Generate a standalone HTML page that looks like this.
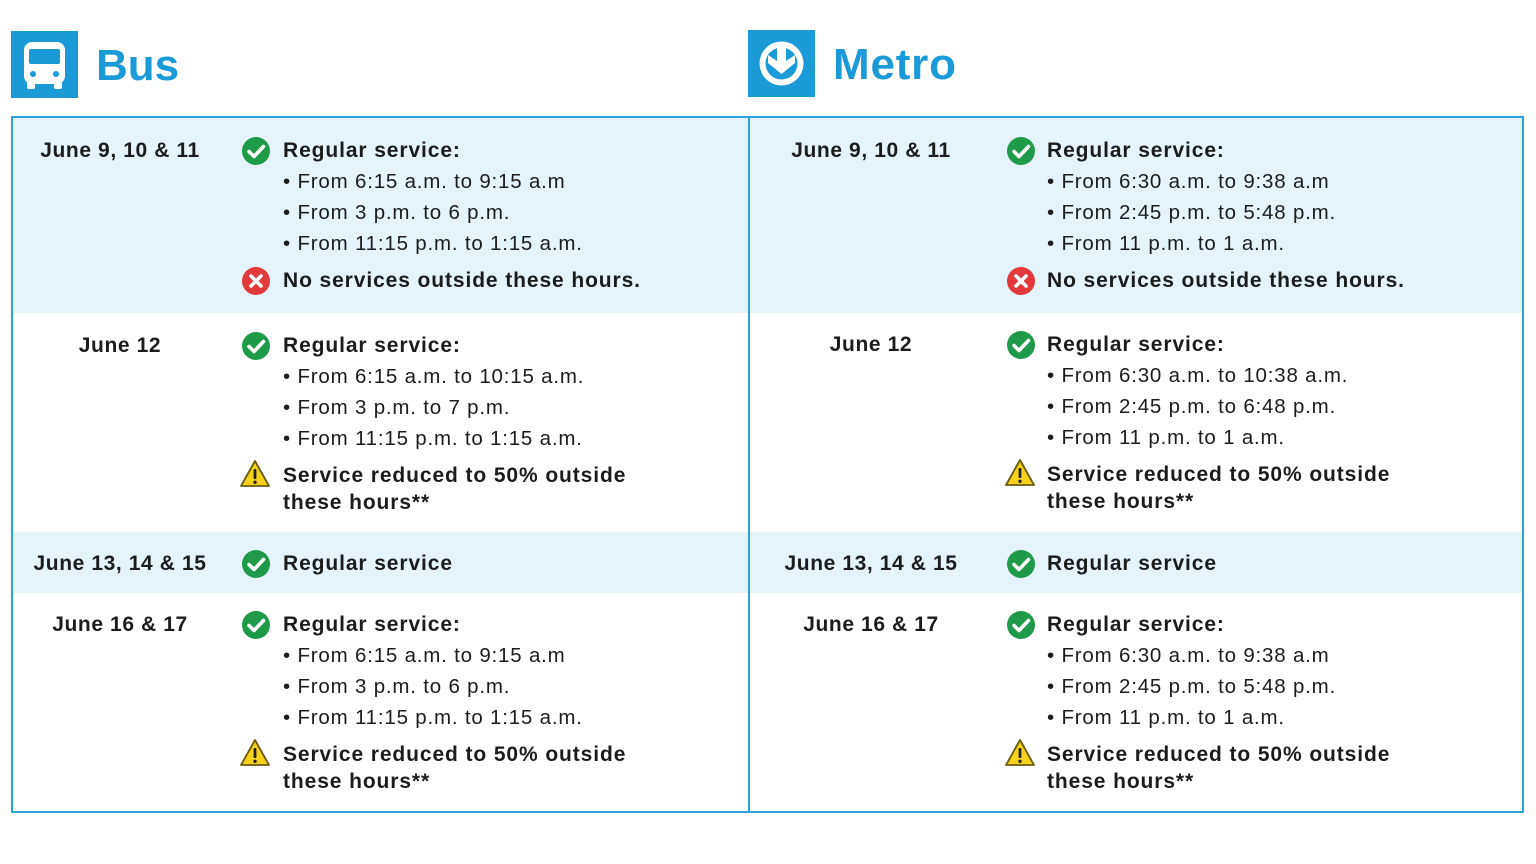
<!DOCTYPE html>
<html><head><meta charset="utf-8"><style>
*{margin:0;padding:0;box-sizing:border-box}
body{width:1536px;height:864px;background:#fff;position:relative;overflow:hidden;font-family:"Liberation Sans",sans-serif;color:#1c1c1c}
.a{position:absolute;white-space:nowrap;line-height:24px;margin-top:2px}
.b{font-weight:bold;font-size:21px;letter-spacing:0.9px}
.r{font-size:20.5px;letter-spacing:0.8px}
.d{font-weight:bold;font-size:21px;text-align:center;width:220px;letter-spacing:0.6px}
.ic{position:absolute;width:30px;height:30px;margin-top:1px}
.bg{position:absolute;background:#e5f3fb}
.h{position:absolute;color:#1b9ad8;font-weight:bold;font-size:44px;line-height:50px}
</style></head><body>
<div class="bg" style="left:11px;top:117px;width:1512px;height:196px"></div>
<div class="bg" style="left:11px;top:532px;width:1512px;height:61px"></div>
<div style="position:absolute;left:11px;top:116px;width:1513px;height:697px;border:2px solid #2aa3df"></div>
<div style="position:absolute;left:748px;top:116px;width:2px;height:697px;background:#2aa3df"></div>
<svg style="position:absolute;left:11px;top:31px" width="67" height="67" viewBox="0 0 67 67"><rect width="67" height="67" fill="#1b9ad8"/><rect x="13" y="11" width="41" height="42" rx="8" fill="#fff"/><rect x="18" y="18" width="31" height="15" rx="2" fill="#1b9ad8"/><circle cx="22" cy="43" r="3" fill="#1b9ad8"/><circle cx="45" cy="43" r="3" fill="#1b9ad8"/><rect x="16" y="50" width="8" height="8" rx="2" fill="#fff"/><rect x="43" y="50" width="8" height="8" rx="2" fill="#fff"/></svg>
<div class="h" style="left:96px;top:41px">Bus</div>
<svg style="position:absolute;left:748px;top:30px" width="67" height="67" viewBox="0 0 67 67"><rect width="67" height="67" fill="#1b9ad8"/><circle cx="33.5" cy="33.5" r="22" fill="#fff"/><circle cx="33.5" cy="33.5" r="16" fill="#1b9ad8"/><path d="M29 17 h9 v14 l9 -6 v8 l-13.5 11 l-13.5 -11 v-8 l9 6z" fill="#fff"/></svg>
<div class="h" style="left:833px;top:40px;letter-spacing:0.8px">Metro</div>

<svg width="0" height="0" style="position:absolute"><defs>
<g id="ok"><circle cx="15" cy="15" r="14" fill="#1e9a48"/><path d="M8 15.5 l5 5 l9.5 -10" stroke="#fff" stroke-width="3.6" fill="none" stroke-linecap="round" stroke-linejoin="round"/></g>
<g id="no"><circle cx="15" cy="15" r="14" fill="#e23a3a"/><path d="M10 10 l10 10 M20 10 l-10 10" stroke="#fff" stroke-width="3.6" stroke-linecap="round"/></g>
<g id="wr"><path d="M15 2 L29 27 H1 Z" fill="#f6d21a" stroke="#6a5a10" stroke-width="1.8" stroke-linejoin="round"/><rect x="13.6" y="10" width="2.8" height="10" rx="1" fill="#222"/><circle cx="15" cy="23.3" r="1.7" fill="#222"/></g>
</defs></svg>

<div class="a d" style="left:10px;top:137px">June 9, 10 &amp; 11</div>
<svg class="ic" style="left:241px;top:135px"><use href="#ok"/></svg>
<div class="a b" style="left:283px;top:137px">Regular service:</div>
<div class="a r" style="left:283px;top:168px">• From 6:15 a.m. to 9:15 a.m</div>
<div class="a r" style="left:283px;top:199px">• From 3 p.m. to 6 p.m.</div>
<div class="a r" style="left:283px;top:230px">• From 11:15 p.m. to 1:15 a.m.</div>
<svg class="ic" style="left:241px;top:265px"><use href="#no"/></svg>
<div class="a b" style="left:283px;top:267px">No services outside these hours.</div>

<div class="a d" style="left:10px;top:332px">June 12</div>
<svg class="ic" style="left:241px;top:330px"><use href="#ok"/></svg>
<div class="a b" style="left:283px;top:332px">Regular service:</div>
<div class="a r" style="left:283px;top:363px">• From 6:15 a.m. to 10:15 a.m.</div>
<div class="a r" style="left:283px;top:394px">• From 3 p.m. to 7 p.m.</div>
<div class="a r" style="left:283px;top:425px">• From 11:15 p.m. to 1:15 a.m.</div>
<svg class="ic" style="left:240px;top:458px"><use href="#wr"/></svg>
<div class="a b" style="left:283px;top:462px">Service reduced to 50% outside</div>
<div class="a b" style="left:283px;top:489px">these hours**</div>

<div class="a d" style="left:10px;top:550px">June 13, 14 &amp; 15</div>
<svg class="ic" style="left:241px;top:548px"><use href="#ok"/></svg>
<div class="a b" style="left:283px;top:550px">Regular service</div>

<div class="a d" style="left:10px;top:611px">June 16 &amp; 17</div>
<svg class="ic" style="left:241px;top:609px"><use href="#ok"/></svg>
<div class="a b" style="left:283px;top:611px">Regular service:</div>
<div class="a r" style="left:283px;top:642px">• From 6:15 a.m. to 9:15 a.m</div>
<div class="a r" style="left:283px;top:673px">• From 3 p.m. to 6 p.m.</div>
<div class="a r" style="left:283px;top:704px">• From 11:15 p.m. to 1:15 a.m.</div>
<svg class="ic" style="left:240px;top:737px"><use href="#wr"/></svg>
<div class="a b" style="left:283px;top:741px">Service reduced to 50% outside</div>
<div class="a b" style="left:283px;top:768px">these hours**</div>

<div class="a d" style="left:761px;top:137px">June 9, 10 &amp; 11</div>
<svg class="ic" style="left:1006px;top:135px"><use href="#ok"/></svg>
<div class="a b" style="left:1047px;top:137px">Regular service:</div>
<div class="a r" style="left:1047px;top:168px">• From 6:30 a.m. to 9:38 a.m</div>
<div class="a r" style="left:1047px;top:199px">• From 2:45 p.m. to 5:48 p.m.</div>
<div class="a r" style="left:1047px;top:230px">• From 11 p.m. to 1 a.m.</div>
<svg class="ic" style="left:1006px;top:265px"><use href="#no"/></svg>
<div class="a b" style="left:1047px;top:267px">No services outside these hours.</div>

<div class="a d" style="left:761px;top:331px">June 12</div>
<svg class="ic" style="left:1006px;top:329px"><use href="#ok"/></svg>
<div class="a b" style="left:1047px;top:331px">Regular service:</div>
<div class="a r" style="left:1047px;top:362px">• From 6:30 a.m. to 10:38 a.m.</div>
<div class="a r" style="left:1047px;top:393px">• From 2:45 p.m. to 6:48 p.m.</div>
<div class="a r" style="left:1047px;top:424px">• From 11 p.m. to 1 a.m.</div>
<svg class="ic" style="left:1005px;top:457px"><use href="#wr"/></svg>
<div class="a b" style="left:1047px;top:461px">Service reduced to 50% outside</div>
<div class="a b" style="left:1047px;top:488px">these hours**</div>

<div class="a d" style="left:761px;top:550px">June 13, 14 &amp; 15</div>
<svg class="ic" style="left:1006px;top:548px"><use href="#ok"/></svg>
<div class="a b" style="left:1047px;top:550px">Regular service</div>

<div class="a d" style="left:761px;top:611px">June 16 &amp; 17</div>
<svg class="ic" style="left:1006px;top:609px"><use href="#ok"/></svg>
<div class="a b" style="left:1047px;top:611px">Regular service:</div>
<div class="a r" style="left:1047px;top:642px">• From 6:30 a.m. to 9:38 a.m</div>
<div class="a r" style="left:1047px;top:673px">• From 2:45 p.m. to 5:48 p.m.</div>
<div class="a r" style="left:1047px;top:704px">• From 11 p.m. to 1 a.m.</div>
<svg class="ic" style="left:1005px;top:737px"><use href="#wr"/></svg>
<div class="a b" style="left:1047px;top:741px">Service reduced to 50% outside</div>
<div class="a b" style="left:1047px;top:768px">these hours**</div>
</body></html>
